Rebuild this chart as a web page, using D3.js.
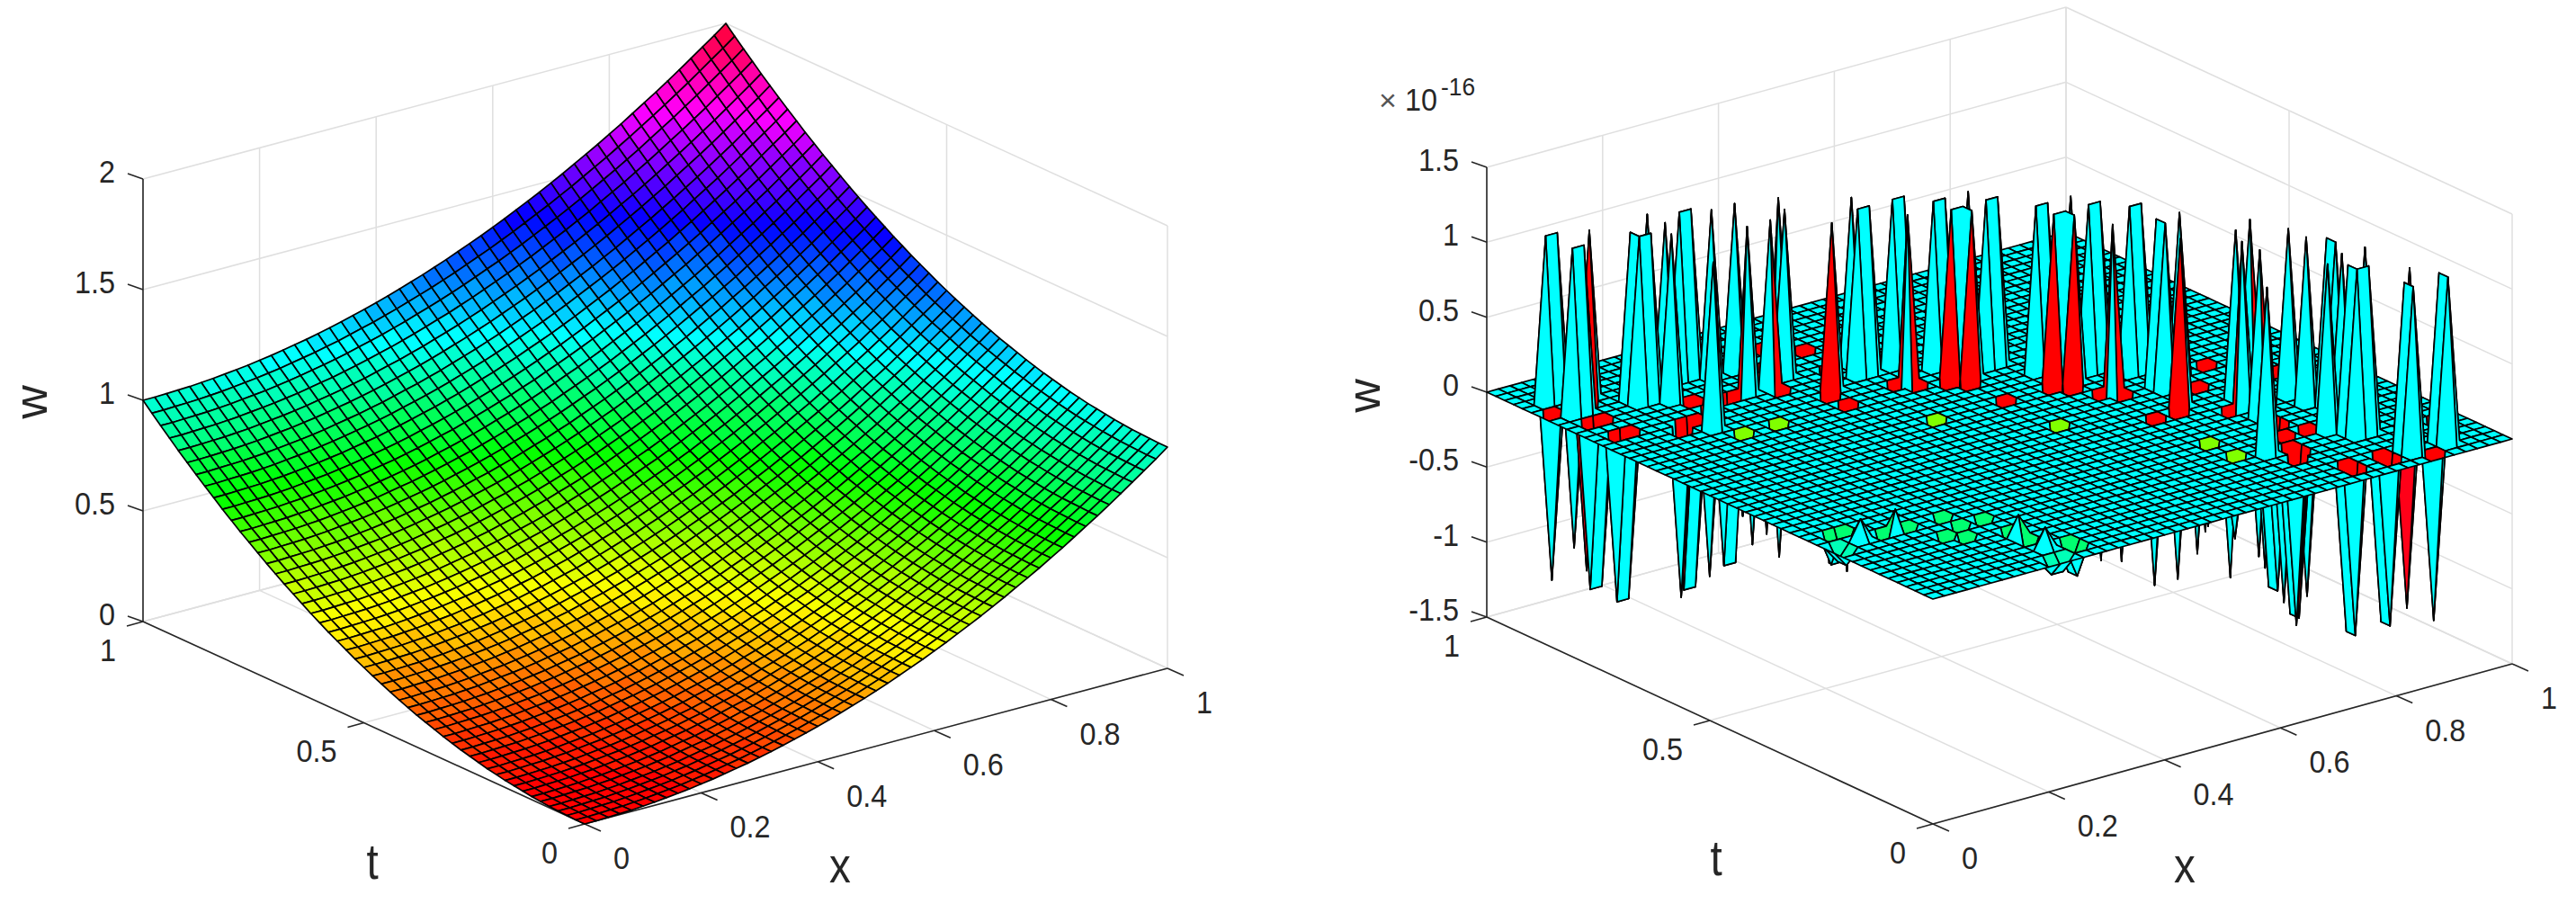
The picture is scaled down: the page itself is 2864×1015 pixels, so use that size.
<!DOCTYPE html>
<html>
<head>
<meta charset="utf-8">
<script src="https://d3js.org/d3.v7.min.js"></script>
<style>
  html, body { margin: 0; background: #fff; }
  svg text { font-family: "Liberation Sans", Arial, sans-serif; fill: #262626; }
</style>
</head>
<body>
<svg id="chart" width="2864" height="1015"></svg>
<script>
const xTicks = [0, 0.2, 0.4, 0.6, 0.8, 1];
const tTicks = [0, 0.5, 1];
const wTicksSmooth = [0, 0.5, 1, 1.5, 2];
const wTicksResidual = [-1.5, -1, -0.5, 0, 0.5, 1, 1.5];

// left surface, height read along the x=0 and t=0 edges, 51 nodes each
const wAlongX = [0, 0, 0.002, 0.004, 0.006, 0.01, 0.014, 0.02, 0.026, 0.032, 0.04, 0.048, 0.058, 0.068, 0.078, 0.09, 0.102,
  0.116, 0.13, 0.144, 0.16, 0.176, 0.194, 0.212, 0.23, 0.25, 0.27, 0.292, 0.314, 0.336, 0.36, 0.384, 0.41, 0.436, 0.462,
  0.49, 0.518, 0.548, 0.578, 0.608, 0.64, 0.672, 0.706, 0.74, 0.774, 0.81, 0.846, 0.884, 0.922, 0.96, 1];
const wAlongT = [0, 0, 0.002, 0.004, 0.006, 0.01, 0.014, 0.02, 0.026, 0.032, 0.04, 0.048, 0.058, 0.068, 0.078, 0.09, 0.102,
  0.116, 0.13, 0.144, 0.16, 0.176, 0.194, 0.212, 0.23, 0.25, 0.27, 0.292, 0.314, 0.336, 0.36, 0.384, 0.41, 0.436, 0.462,
  0.49, 0.518, 0.548, 0.578, 0.608, 0.64, 0.672, 0.706, 0.74, 0.774, 0.81, 0.846, 0.884, 0.922, 0.96, 1];

// right surface is flat except at these nodes [x index, t index], w in units of 1e-16
const peakNodes = [[2,46],[3,46],[46,2],[46,3],[5,45],[45,5],[2,43],[3,43],[43,2],[43,3],[7,43],[7,42],[8,42],[43,7],[42,7],[42,8],
  [10,45],[45,10],[10,43],[43,10],[9,41],[41,9],[12,44],[13,44],[44,12],[44,13],[14,43],[43,14],[8,35],[35,8],[16,43],[43,16],
  [14,39],[39,14],[16,39],[39,16],[19,42],[42,19],[18,40],[40,18],[19,36],[36,19],[23,39],[39,23],[22,37],[23,37],[37,22],[37,23],
  [25,37],[26,37],[37,26],[38,26],[24,34],[34,24],[27,35],[28,35],[35,28],[36,28],[27,33],[28,33],[28,32],[33,27],[33,28],[32,28],
  [30,33],[31,33],[32,30],[33,30],[30,35],[35,30]];
const pitNodes = [[1,44],[44,1],[6,48],[48,6],[4,44],[44,4],[2,41],[3,41],[41,2],[41,3],[2,38],[3,38],[38,2],[38,3],[6,36],[36,6],
  [7,37],[8,37],[37,7],[37,8],[10,38],[38,10],[12,39],[13,39],[39,12],[39,13],[19,46],[46,19],[16,41],[41,16],[18,42],[42,18],
  [16,38],[38,16],[18,35],[35,18],[18,33],[33,18],[24,33],[33,24],[23,34],[34,23],[21,39],[39,21],[24,42],[42,24],[22,43],[43,22],
  [10,40],[40,10],[27,27],[26,32],[27,31],[31,27],[32,26],[45,20],[20,45]];
const shallowPits = [[9,33],[33,9],[12,33],[33,12],[21,27],[27,21]];
const tinyPits = [[2,14],[3,14],[14,2],[14,3],[10,12],[12,10],[10,10],[8,9],[9,8],[5,12],[7,12],[12,5],[12,7]];
const edgePits = [[1,12],[1,11],[12,1],[11,1]];
const tinyPeaks = [[3,12],[12,3],[6,12],[12,6]];
const peakLevel = 1.11, pitLevel = -1.11, shallowLevel = -0.55, tinyPitLevel = -0.2, edgePitLevel = -0.1, tinyPeakLevel = 0.14;

const nodeCount = 51;

const smoothW = d3.range(nodeCount).map(i => d3.range(nodeCount).map(j => wAlongX[i] + wAlongT[j]));

const residualW = d3.range(nodeCount).map(() => new Array(nodeCount).fill(0));
peakNodes.forEach(([i, j]) => residualW[i][j] = peakLevel);
pitNodes.forEach(([i, j]) => residualW[i][j] = pitLevel);
shallowPits.forEach(([i, j]) => residualW[i][j] = shallowLevel);
tinyPits.forEach(([i, j]) => residualW[i][j] = tinyPitLevel);
edgePits.forEach(([i, j]) => residualW[i][j] = edgePitLevel);
tinyPeaks.forEach(([i, j]) => residualW[i][j] = tinyPeakLevel);

const svg = d3.select("#chart");

// matlab hsv colormap, 64 levels
function hsvColor(v, lo, hi) {
  let k = Math.min(63, Math.floor((v - lo) / (hi - lo) * 64));
  return d3.hsl(k / 64 * 360, 1, 0.5).formatHex();
}

// figure text in the picture is slightly condensed
function label(parent, x, y, str, size, anchor, squeeze) {
  return parent.append("text")
    .attr("transform", `translate(${x},${y}) scale(${squeeze},1)`)
    .attr("dy", ".36em")
    .attr("text-anchor", anchor)
    .attr("font-size", size)
    .text(str);
}

function drawPanel(cfg) {
  const g = svg.append("g");
  const [wMin, wMax] = cfg.wDomain;

  // oblique parallel projection, three screen scales per data axis
  const xPx = d3.scaleLinear([0, 1], [0, cfg.xEnd[0] - cfg.origin[0]]);
  const xPy = d3.scaleLinear([0, 1], [0, cfg.xEnd[1] - cfg.origin[1]]);
  const tPx = d3.scaleLinear([0, 1], [0, cfg.tEnd[0] - cfg.origin[0]]);
  const tPy = d3.scaleLinear([0, 1], [0, cfg.tEnd[1] - cfg.origin[1]]);
  const wPy = d3.scaleLinear([wMin, wMax], [0, -cfg.wHeight]);
  const project = (x, t, w) => [
    cfg.origin[0] + xPx(x) + tPx(t),
    cfg.origin[1] + xPy(x) + tPy(t) + wPy(w)
  ];
  const segment = (a, b, cls) => g.append("line")
    .attr("x1", a[0]).attr("y1", a[1]).attr("x2", b[0]).attr("y2", b[1])
    .attr("stroke", cls === "grid" ? "#dfdfdf" : "#262626")
    .attr("stroke-width", cls === "grid" ? 1.5 : 1.6);

  // grid on floor and back walls
  xTicks.forEach(x => {
    segment(project(x, 0, wMin), project(x, 1, wMin), "grid");
    segment(project(x, 1, wMin), project(x, 1, wMax), "grid");
  });
  tTicks.forEach(t => {
    segment(project(0, t, wMin), project(1, t, wMin), "grid");
    segment(project(1, t, wMin), project(1, t, wMax), "grid");
  });
  cfg.wTicks.forEach(w => {
    segment(project(0, 1, w), project(1, 1, w), "grid");
    segment(project(1, 1, w), project(1, 0, w), "grid");
  });

  // axes and ticks
  segment(project(0, 1, wMin), project(0, 1, wMax), "axis");
  segment(project(0, 0, wMin), project(1, 0, wMin), "axis");
  segment(project(0, 0, wMin), project(0, 1, wMin), "axis");
  xTicks.forEach(x => {
    const p = project(x, 0, wMin);
    segment(p, [p[0] + 18, p[1] + 8], "axis");
    label(g, p[0] + 32, p[1] + 37, x, 36, "start", 0.9);
  });
  tTicks.forEach(t => {
    const p = project(0, t, wMin);
    segment(p, [p[0] - 18, p[1] + 5], "axis");
    label(g, p[0] - 30, p[1] + 31, t, 36, "end", 0.9);
  });
  cfg.wTicks.forEach(w => {
    const p = project(0, 1, w);
    segment(p, [p[0] - 17, p[1] - 6], "axis");
    label(g, p[0] - 31, p[1] - 9, w, 36, "end", 0.9);
  });

  // back to front, colour from the low corner of each face like surf does
  const faces = [];
  const node = (i, j) => project(i / (nodeCount - 1), j / (nodeCount - 1), cfg.values[i][j]);
  for (let i = nodeCount - 2; i >= 0; i--) {
    for (let j = nodeCount - 2; j >= 0; j--) {
      faces.push({
        pts: [node(i, j), node(i + 1, j), node(i + 1, j + 1), node(i, j + 1)],
        fill: hsvColor(cfg.values[i][j], cfg.cDomain[0], cfg.cDomain[1])
      });
    }
  }
  g.append("g").selectAll("path").data(faces).join("path")
    .attr("d", d => "M" + d.pts.map(p => p[0].toFixed(2) + "," + p[1].toFixed(2)).join("L") + "Z")
    .attr("fill", d => d.fill)
    .attr("stroke", "#000")
    .attr("stroke-width", 1.7)
    .attr("stroke-linejoin", "round");

  // axis names
  label(g, cfg.tLabel[0], cfg.tLabel[1], "t", 56, "middle", 0.85);
  label(g, cfg.xLabel[0], cfg.xLabel[1] - 8, "x", 56, "middle", 0.85);
  g.append("text").attr("transform", `translate(${cfg.wLabel[0]},${cfg.wLabel[1]}) rotate(-90)`)
    .attr("dy", ".18em").attr("text-anchor", "middle").attr("font-size", 52).text("w");
}

drawPanel({
  origin: [650, 916], xEnd: [1298, 743], tEnd: [159, 691], wHeight: 492,
  wDomain: [0, 2], cDomain: [0, 2], wTicks: wTicksSmooth, values: smoothW,
  tLabel: [414, 957], xLabel: [934, 969], wLabel: [43, 447]
});

drawPanel({
  origin: [2149, 916], xEnd: [2793, 738], tEnd: [1653, 686], wHeight: 500,
  wDomain: [-1.5, 1.5], cDomain: [pitLevel, peakLevel], wTicks: wTicksResidual, values: residualW,
  tLabel: [1908, 953], xLabel: [2429, 969], wLabel: [1525, 440]
});

// exponent above the right w axis
svg.append("text").attr("x", 1533).attr("y", 123).attr("font-size", 34).style("fill", "#555").text("\u00d7");
svg.append("text").attr("transform", "translate(1562,123) scale(0.9,1)").attr("font-size", 36).text("10");
svg.append("text").attr("transform", "translate(1602,106) scale(0.94,1)").attr("font-size", 28).text("-16");
</script>
</body>
</html>
